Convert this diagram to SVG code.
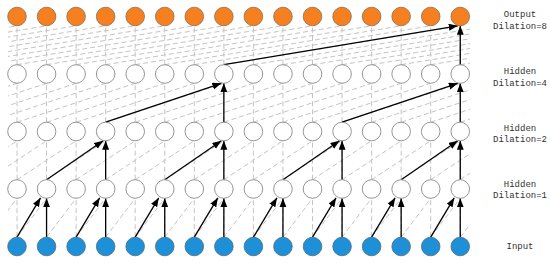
<svg xmlns="http://www.w3.org/2000/svg" xmlns:xlink="http://www.w3.org/1999/xlink" width="550" height="263" viewBox="0 0 550 263">
<style>
.dash{fill:none;stroke:#c4c4c4;stroke-width:1;stroke-dasharray:5 3}
.arr{fill:none;stroke:#000;stroke-width:1.3;marker-end:url(#ah)}
.out{fill:#f6801f;stroke:#8a6a50;stroke-width:0.8}
.hid{fill:#fff;stroke:#8a8a8a;stroke-width:0.9}
.inp{fill:#1e90d8;stroke:#4a6a80;stroke-width:0.8}
.lbl{font-family:"Liberation Mono","DejaVu Sans Mono",monospace;font-size:9px;fill:#333;text-anchor:middle}
</style>
<defs>
<marker id="ah" markerUnits="userSpaceOnUse" markerWidth="10" markerHeight="8" refX="9" refY="3.5" orient="auto">
<path d="M0,0 L9,3.5 L0,7 z" fill="#000"/>
</marker>
<clipPath id="clip"><rect x="8" y="0" width="462" height="263"/></clipPath>
</defs>
<rect width="550" height="263" fill="#fff"/>
<g id="connectors">
<g id="dashed" clip-path="url(#clip)">
<!-- verticals -->
<path class="dash" d="M17 237.2v-38.9m29.55 38.9v-38.9m29.55 38.9v-38.9m29.55 38.9v-38.9m29.55 38.9v-38.9m29.55 38.9v-38.9m29.55 38.9v-38.9m29.55 38.9v-38.9m29.55 38.9v-38.9m29.55 38.9v-38.9m29.55 38.9v-38.9m29.55 38.9v-38.9m29.55 38.9v-38.9m29.55 38.9v-38.9m29.55 38.9v-38.9m29.55 38.9v-38.9"/>
<path class="dash" d="M17 179.7v-38.9m29.55 38.9v-38.9m29.55 38.9v-38.9m29.55 38.9v-38.9m29.55 38.9v-38.9m29.55 38.9v-38.9m29.55 38.9v-38.9m29.55 38.9v-38.9m29.55 38.9v-38.9m29.55 38.9v-38.9m29.55 38.9v-38.9m29.55 38.9v-38.9m29.55 38.9v-38.9m29.55 38.9v-38.9m29.55 38.9v-38.9m29.55 38.9v-38.9"/>
<path class="dash" d="M17 122.2v-38.9m29.55 38.9v-38.9m29.55 38.9v-38.9m29.55 38.9v-38.9m29.55 38.9v-38.9m29.55 38.9v-38.9m29.55 38.9v-38.9m29.55 38.9v-38.9m29.55 38.9v-38.9m29.55 38.9v-38.9m29.55 38.9v-38.9m29.55 38.9v-38.9m29.55 38.9v-38.9m29.55 38.9v-38.9m29.55 38.9v-38.9m29.55 38.9v-38.9"/>
<path class="dash" d="M17 64.7v-38.9m29.55 38.9v-38.9m29.55 38.9v-38.9m29.55 38.9v-38.9m29.55 38.9v-38.9m29.55 38.9v-38.9m29.55 38.9v-38.9m29.55 38.9v-38.9m29.55 38.9v-38.9m29.55 38.9v-38.9m29.55 38.9v-38.9m29.55 38.9v-38.9m29.55 38.9v-38.9m29.55 38.9v-38.9m29.55 38.9v-38.9m29.55 38.9v-38.9"/>
<!-- diagonals d=1 -->
<path class="dash" d="M-12.55 237.2l29.55-38.9m0 38.9l29.55-38.9m0 38.9l29.55-38.9m0 38.9l29.55-38.9m0 38.9l29.55-38.9m0 38.9l29.55-38.9m0 38.9l29.55-38.9m0 38.9l29.55-38.9m0 38.9l29.55-38.9m0 38.9l29.55-38.9m0 38.9l29.55-38.9m0 38.9l29.55-38.9m0 38.9l29.55-38.9m0 38.9l29.55-38.9m0 38.9l29.55-38.9m0 38.9l29.55-38.9m0 38.9l29.55-38.9"/>
<!-- diagonals d=2 -->
<path class="dash" d="M-42.1 179.7l59.1-38.9m-29.55 38.9l59.1-38.9m-29.55 38.9l59.1-38.9m-29.55 38.9l59.1-38.9m-29.55 38.9l59.1-38.9m-29.55 38.9l59.1-38.9m-29.55 38.9l59.1-38.9m-29.55 38.9l59.1-38.9m-29.55 38.9l59.1-38.9m-29.55 38.9l59.1-38.9m-29.55 38.9l59.1-38.9m-29.55 38.9l59.1-38.9m-29.55 38.9l59.1-38.9m-29.55 38.9l59.1-38.9m-29.55 38.9l59.1-38.9m-29.55 38.9l59.1-38.9m-29.55 38.9l59.1-38.9m-29.55 38.9l59.1-38.9"/>
<!-- diagonals d=4 -->
<path class="dash" d="M-101.2 122.2l118.2-38.9m-88.65 38.9l118.2-38.9m-88.65 38.9l118.2-38.9m-88.65 38.9l118.2-38.9m-88.65 38.9l118.2-38.9m-88.65 38.9l118.2-38.9m-88.65 38.9l118.2-38.9m-88.65 38.9l118.2-38.9m-88.65 38.9l118.2-38.9m-88.65 38.9l118.2-38.9m-88.65 38.9l118.2-38.9m-88.65 38.9l118.2-38.9m-88.65 38.9l118.2-38.9m-88.65 38.9l118.2-38.9m-88.65 38.9l118.2-38.9m-88.65 38.9l118.2-38.9m-88.65 38.9l118.2-38.9m-88.65 38.9l118.2-38.9m-88.65 38.9l118.2-38.9m-88.65 38.9l118.2-38.9"/>
<!-- diagonals d=8 -->
<path class="dash" d="M-219.4 64.7l236.4-38.9m-206.85 38.9l236.4-38.9m-206.85 38.9l236.4-38.9m-206.85 38.9l236.4-38.9m-206.85 38.9l236.4-38.9m-206.85 38.9l236.4-38.9m-206.85 38.9l236.4-38.9m-206.85 38.9l236.4-38.9m-206.85 38.9l236.4-38.9m-206.85 38.9l236.4-38.9m-206.85 38.9l236.4-38.9m-206.85 38.9l236.4-38.9m-206.85 38.9l236.4-38.9m-206.85 38.9l236.4-38.9m-206.85 38.9l236.4-38.9m-206.85 38.9l236.4-38.9m-206.85 38.9l236.4-38.9m-206.85 38.9l236.4-38.9m-206.85 38.9l236.4-38.9m-206.85 38.9l236.4-38.9m-206.85 38.9l236.4-38.9m-206.85 38.9l236.4-38.9m-206.85 38.9l236.4-38.9m-206.85 38.9l236.4-38.9"/>
</g>
<g id="arrows">
<!-- input -> hidden1 -->
<path class="arr" d="M17 237.2L40.55 197.8"/>
<path class="arr" d="M46.55 237.2V198.3"/>
<path class="arr" d="M76.1 237.2L99.65 197.8"/>
<path class="arr" d="M105.65 237.2V198.3"/>
<path class="arr" d="M135.2 237.2L158.75 197.8"/>
<path class="arr" d="M164.75 237.2V198.3"/>
<path class="arr" d="M194.3 237.2L217.85 197.8"/>
<path class="arr" d="M223.85 237.2V198.3"/>
<path class="arr" d="M253.4 237.2L276.95 197.8"/>
<path class="arr" d="M282.95 237.2V198.3"/>
<path class="arr" d="M312.5 237.2L336.05 197.8"/>
<path class="arr" d="M342.05 237.2V198.3"/>
<path class="arr" d="M371.6 237.2L395.15 197.8"/>
<path class="arr" d="M401.15 237.2V198.3"/>
<path class="arr" d="M430.7 237.2L454.25 197.8"/>
<path class="arr" d="M460.25 237.2V198.3"/>
<!-- hidden1 -> hidden2 -->
<path class="arr" d="M46.55 179.7L103.15 140.8"/>
<path class="arr" d="M105.65 179.7V140.8"/>
<path class="arr" d="M164.75 179.7L221.35 140.8"/>
<path class="arr" d="M223.85 179.7V140.8"/>
<path class="arr" d="M282.95 179.7L339.55 140.8"/>
<path class="arr" d="M342.05 179.7V140.8"/>
<path class="arr" d="M401.15 179.7L457.75 140.8"/>
<path class="arr" d="M460.25 179.7V140.8"/>
<!-- hidden2 -> hidden4 -->
<path class="arr" d="M105.65 122.2L221.35 83.3"/>
<path class="arr" d="M223.85 122.2V83.3"/>
<path class="arr" d="M342.05 122.2L457.75 83.3"/>
<path class="arr" d="M460.25 122.2V83.3"/>
<!-- hidden4 -> output -->
<path class="arr" d="M223.85 64.7L457.75 25.8"/>
<path class="arr" d="M460.25 64.7V25.8"/>
</g>
</g>
<g id="nodes">
<g id="out0"><circle class="out" cx="17" cy="16.5" r="9.3"/></g>
<g id="out1"><circle class="out" cx="46.55" cy="16.5" r="9.3"/></g>
<g id="out2"><circle class="out" cx="76.1" cy="16.5" r="9.3"/></g>
<g id="out3"><circle class="out" cx="105.65" cy="16.5" r="9.3"/></g>
<g id="out4"><circle class="out" cx="135.2" cy="16.5" r="9.3"/></g>
<g id="out5"><circle class="out" cx="164.75" cy="16.5" r="9.3"/></g>
<g id="out6"><circle class="out" cx="194.3" cy="16.5" r="9.3"/></g>
<g id="out7"><circle class="out" cx="223.85" cy="16.5" r="9.3"/></g>
<g id="out8"><circle class="out" cx="253.4" cy="16.5" r="9.3"/></g>
<g id="out9"><circle class="out" cx="282.95" cy="16.5" r="9.3"/></g>
<g id="out10"><circle class="out" cx="312.5" cy="16.5" r="9.3"/></g>
<g id="out11"><circle class="out" cx="342.05" cy="16.5" r="9.3"/></g>
<g id="out12"><circle class="out" cx="371.6" cy="16.5" r="9.3"/></g>
<g id="out13"><circle class="out" cx="401.15" cy="16.5" r="9.3"/></g>
<g id="out14"><circle class="out" cx="430.7" cy="16.5" r="9.3"/></g>
<g id="out15"><circle class="out" cx="460.25" cy="16.5" r="9.3"/></g>

<g id="h4_0"><circle class="hid" cx="17" cy="74" r="9.3"/></g>
<g id="h4_1"><circle class="hid" cx="46.55" cy="74" r="9.3"/></g>
<g id="h4_2"><circle class="hid" cx="76.1" cy="74" r="9.3"/></g>
<g id="h4_3"><circle class="hid" cx="105.65" cy="74" r="9.3"/></g>
<g id="h4_4"><circle class="hid" cx="135.2" cy="74" r="9.3"/></g>
<g id="h4_5"><circle class="hid" cx="164.75" cy="74" r="9.3"/></g>
<g id="h4_6"><circle class="hid" cx="194.3" cy="74" r="9.3"/></g>
<g id="h4_7"><circle class="hid" cx="223.85" cy="74" r="9.3"/></g>
<g id="h4_8"><circle class="hid" cx="253.4" cy="74" r="9.3"/></g>
<g id="h4_9"><circle class="hid" cx="282.95" cy="74" r="9.3"/></g>
<g id="h4_10"><circle class="hid" cx="312.5" cy="74" r="9.3"/></g>
<g id="h4_11"><circle class="hid" cx="342.05" cy="74" r="9.3"/></g>
<g id="h4_12"><circle class="hid" cx="371.6" cy="74" r="9.3"/></g>
<g id="h4_13"><circle class="hid" cx="401.15" cy="74" r="9.3"/></g>
<g id="h4_14"><circle class="hid" cx="430.7" cy="74" r="9.3"/></g>
<g id="h4_15"><circle class="hid" cx="460.25" cy="74" r="9.3"/></g>

<g id="h2_0"><circle class="hid" cx="17" cy="131.5" r="9.3"/></g>
<g id="h2_1"><circle class="hid" cx="46.55" cy="131.5" r="9.3"/></g>
<g id="h2_2"><circle class="hid" cx="76.1" cy="131.5" r="9.3"/></g>
<g id="h2_3"><circle class="hid" cx="105.65" cy="131.5" r="9.3"/></g>
<g id="h2_4"><circle class="hid" cx="135.2" cy="131.5" r="9.3"/></g>
<g id="h2_5"><circle class="hid" cx="164.75" cy="131.5" r="9.3"/></g>
<g id="h2_6"><circle class="hid" cx="194.3" cy="131.5" r="9.3"/></g>
<g id="h2_7"><circle class="hid" cx="223.85" cy="131.5" r="9.3"/></g>
<g id="h2_8"><circle class="hid" cx="253.4" cy="131.5" r="9.3"/></g>
<g id="h2_9"><circle class="hid" cx="282.95" cy="131.5" r="9.3"/></g>
<g id="h2_10"><circle class="hid" cx="312.5" cy="131.5" r="9.3"/></g>
<g id="h2_11"><circle class="hid" cx="342.05" cy="131.5" r="9.3"/></g>
<g id="h2_12"><circle class="hid" cx="371.6" cy="131.5" r="9.3"/></g>
<g id="h2_13"><circle class="hid" cx="401.15" cy="131.5" r="9.3"/></g>
<g id="h2_14"><circle class="hid" cx="430.7" cy="131.5" r="9.3"/></g>
<g id="h2_15"><circle class="hid" cx="460.25" cy="131.5" r="9.3"/></g>

<g id="h1_0"><circle class="hid" cx="17" cy="189" r="9.3"/></g>
<g id="h1_1"><circle class="hid" cx="46.55" cy="189" r="9.3"/></g>
<g id="h1_2"><circle class="hid" cx="76.1" cy="189" r="9.3"/></g>
<g id="h1_3"><circle class="hid" cx="105.65" cy="189" r="9.3"/></g>
<g id="h1_4"><circle class="hid" cx="135.2" cy="189" r="9.3"/></g>
<g id="h1_5"><circle class="hid" cx="164.75" cy="189" r="9.3"/></g>
<g id="h1_6"><circle class="hid" cx="194.3" cy="189" r="9.3"/></g>
<g id="h1_7"><circle class="hid" cx="223.85" cy="189" r="9.3"/></g>
<g id="h1_8"><circle class="hid" cx="253.4" cy="189" r="9.3"/></g>
<g id="h1_9"><circle class="hid" cx="282.95" cy="189" r="9.3"/></g>
<g id="h1_10"><circle class="hid" cx="312.5" cy="189" r="9.3"/></g>
<g id="h1_11"><circle class="hid" cx="342.05" cy="189" r="9.3"/></g>
<g id="h1_12"><circle class="hid" cx="371.6" cy="189" r="9.3"/></g>
<g id="h1_13"><circle class="hid" cx="401.15" cy="189" r="9.3"/></g>
<g id="h1_14"><circle class="hid" cx="430.7" cy="189" r="9.3"/></g>
<g id="h1_15"><circle class="hid" cx="460.25" cy="189" r="9.3"/></g>

<g id="in0"><circle class="inp" cx="17" cy="246.5" r="9.3"/></g>
<g id="in1"><circle class="inp" cx="46.55" cy="246.5" r="9.3"/></g>
<g id="in2"><circle class="inp" cx="76.1" cy="246.5" r="9.3"/></g>
<g id="in3"><circle class="inp" cx="105.65" cy="246.5" r="9.3"/></g>
<g id="in4"><circle class="inp" cx="135.2" cy="246.5" r="9.3"/></g>
<g id="in5"><circle class="inp" cx="164.75" cy="246.5" r="9.3"/></g>
<g id="in6"><circle class="inp" cx="194.3" cy="246.5" r="9.3"/></g>
<g id="in7"><circle class="inp" cx="223.85" cy="246.5" r="9.3"/></g>
<g id="in8"><circle class="inp" cx="253.4" cy="246.5" r="9.3"/></g>
<g id="in9"><circle class="inp" cx="282.95" cy="246.5" r="9.3"/></g>
<g id="in10"><circle class="inp" cx="312.5" cy="246.5" r="9.3"/></g>
<g id="in11"><circle class="inp" cx="342.05" cy="246.5" r="9.3"/></g>
<g id="in12"><circle class="inp" cx="371.6" cy="246.5" r="9.3"/></g>
<g id="in13"><circle class="inp" cx="401.15" cy="246.5" r="9.3"/></g>
<g id="in14"><circle class="inp" cx="430.7" cy="246.5" r="9.3"/></g>
<g id="in15"><circle class="inp" cx="460.25" cy="246.5" r="9.3"/></g>
</g>
<g id="labels">
<text class="lbl" x="520" y="17">Output</text>
<text class="lbl" x="520" y="29">Dilation=8</text>
<text class="lbl" x="520" y="74">Hidden</text>
<text class="lbl" x="520" y="85.5">Dilation=4</text>
<text class="lbl" x="520" y="130.5">Hidden</text>
<text class="lbl" x="520" y="142">Dilation=2</text>
<text class="lbl" x="520" y="186.5">Hidden</text>
<text class="lbl" x="520" y="198">Dilation=1</text>
<text class="lbl" x="520" y="248.5">Input</text>
</g>
</svg>
